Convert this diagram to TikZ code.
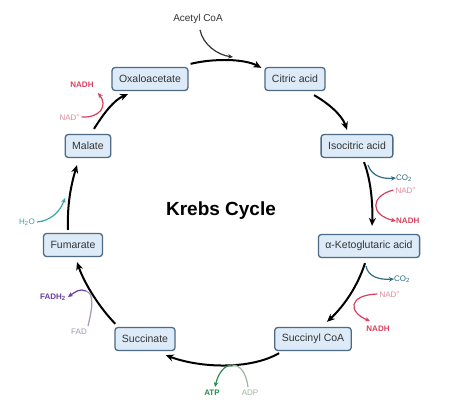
\documentclass[tikz,border=0pt]{standalone}
\usepackage{fontspec}
\setmainfont{Liberation Sans}
\usetikzlibrary{arrows.meta}
\definecolor{boxfill}{HTML}{DDEBF8}
\definecolor{boxline}{HTML}{4E6B86}
\definecolor{txt}{HTML}{333333}
\definecolor{redA}{HTML}{D8405E}
\definecolor{redB}{HTML}{E38A9C}
\definecolor{coblue}{HTML}{2F6C8C}
\definecolor{teal}{HTML}{3AA6A6}
\definecolor{purp}{HTML}{6A3E9E}
\definecolor{purpl}{HTML}{A596B8}
\definecolor{grn}{HTML}{2E8B4F}
\definecolor{grnl}{HTML}{9DB79F}
\tikzset{
  mol/.style={draw=boxline, fill=boxfill, line width=1.3pt, rounded corners=3pt,
    inner xsep=7pt, minimum height=23pt, font=\fontsize{10.5}{12}\selectfont, text=txt},
  cyc/.style={line width=2pt, -{Stealth[length=8pt,width=7pt]}},
  side/.style={line width=1.2pt, -{Stealth[length=5pt,width=4.5pt]}},
  lab/.style={font=\fontsize{8}{9}\selectfont, inner sep=0pt},
  labb/.style={font=\fontsize{8}{9}\selectfont\bfseries, inner sep=0pt},
}
\begin{document}
\begin{tikzpicture}[x=1pt,y=-1pt]
\useasboundingbox (0,0) rectangle (474,407);
\fill[white] (0,0) rectangle (474,407);

\node[mol] (oxa) at (150,79) {Oxaloacetate};
\node[mol] (cit) at (295,79) {Citric acid};
\node[mol] (iso) at (357,146) {Isocitric acid};
\node[mol] (ak)  at (369,246) {α-Ketoglutaric acid};
\node[mol] (sca) at (313,339) {Succinyl CoA};
\node[mol] (suc) at (145,339) {Succinate};
\node[mol] (fum) at (73,245) {Fumarate};
\node[mol] (mal) at (88,146) {Malate};

\node[font=\fontsize{19}{22}\selectfont\bfseries, text=black] (title) at (221,211) {Krebs Cycle};

% main cycle
\draw[cyc] ([shift={(2,-3)}]oxa.north east) .. controls (215,58) and (245,59) .. ([shift={(-3,1)}]cit.north west);
\draw[cyc] ([shift={(19,4)}]cit.south) .. controls (328,103) and (342,115) .. ([shift={(-10,-4)}]iso.north);
\draw[cyc] ([shift={(7,4)}]iso.south) .. controls (371,180) and (373,205) .. ([shift={(3,-8)}]ak.north);
\draw[cyc] ([shift={(-4,5)}]ak.south) .. controls (358,285) and (345,305) .. ([shift={(14,-5)}]sca.north);
\draw[cyc] ([shift={(5,2)}]sca.south west) .. controls (250,370) and (200,368) .. ([shift={(-10,4)}]suc.south east);
\draw[cyc] ([shift={(1,-3)}]suc.north west) .. controls (100,308) and (85,285) .. ([shift={(4,5)}]fum.south);
\draw[cyc] ([shift={(-5,-3)}]fum.north) .. controls (67,205) and (71,185) .. ([shift={(-11,7)}]mal.south);
\draw[cyc] ([shift={(6,-5)}]mal.north) .. controls (104,113) and (114,100) .. ([shift={(-22,3)}]oxa.south);

% Acetyl CoA
\node[font=\fontsize{10}{12}\selectfont, text=txt, inner sep=0pt] (acc) at (198,19) {Acetyl CoA};
\coordinate (accend) at (233,57);
\draw[side, draw=txt] ([shift={(2,6)}]acc.south) .. controls (203,45) and (218,55) .. (accend);

% Isocitric -> alpha-KG side products
\node[lab, text=coblue, anchor=west] (co1) at (396,178) {CO\textsubscript{2}};
\node[lab, text=redB] (nad1) at (406,190) {NAD\textsuperscript{+}};
\node[labb, text=redA, anchor=west] (nadh1) at (396,221) {NADH};
\draw[side, draw=coblue] (368,165) .. controls (372,177) and (384,179) .. (co1.west);
\draw[side, draw=redA] ([xshift=-2pt]nad1.west) .. controls (370,196) and (370,215) .. (nadh1.west);

% alpha-KG -> Succinyl CoA side products
\node[lab, text=coblue, anchor=west] (co2) at (394,279) {CO\textsubscript{2}};
\node[lab, text=redB] (nad2) at (390,294) {NAD\textsuperscript{+}};
\node[labb, text=redA] (nadh2) at (378,329) {NADH};
\draw[side, draw=coblue] (366,266) .. controls (368,277) and (380,280) .. (co2.west);
\draw[side, draw=redA] ([xshift=-2pt]nad2.west) .. controls (348,295) and (348,312) .. ([shift={(-8,-5)}]nadh2.north);

% Succinyl CoA -> Succinate : ATP / ADP
\node[labb, text=grn] (atp) at (212,393) {ATP};
\node[lab, text=grnl] (adp) at (250,393) {ADP};
\coordinate (peak) at (232,365);
\draw[line width=1.2pt, draw=grnl] ([shift={(-2,-3)}]adp.north) .. controls (246,372) and (240,365) .. (peak);
\draw[side, draw=grn] (peak) .. controls (224,365) and (218,374) .. ([shift={(3,-3)}]atp.north);

% Succinate -> Fumarate : FAD / FADH2
\node[lab, text=purpl] (fad) at (79,332) {FAD};
\node[labb, text=purp] (fadh) at (53,297) {FADH\textsubscript{2}};
\coordinate (fmid) at (86,291);
\draw[line width=1.2pt, draw=purpl] ([shift={(9,-3)}]fad.north) .. controls (93,305) and (94,294) .. (fmid);
\draw[side, draw=purp] (fmid) .. controls (80,288) and (75,292) .. ([xshift=2pt]fadh.east);

% Fumarate -> Malate : H2O
\node[lab, text=teal] (h2o) at (27,222) {H\textsubscript{2}O};
\coordinate (h2oend) at (65,198);
\draw[side, draw=teal] ([xshift=2pt]h2o.east) .. controls (50,221) and (60,212) .. (h2oend);

% Malate -> Oxaloacetate : NAD+ / NADH
\node[lab, text=redB] (nad3) at (70,117) {NAD\textsuperscript{+}};
\node[labb, text=redA] (nadh3) at (82,85) {NADH};
\draw[side, draw=redA] ([xshift=1pt]nad3.east) .. controls (100,118) and (108,106) .. ([shift={(16,5)}]nadh3.south);
\end{tikzpicture}
\end{document}
